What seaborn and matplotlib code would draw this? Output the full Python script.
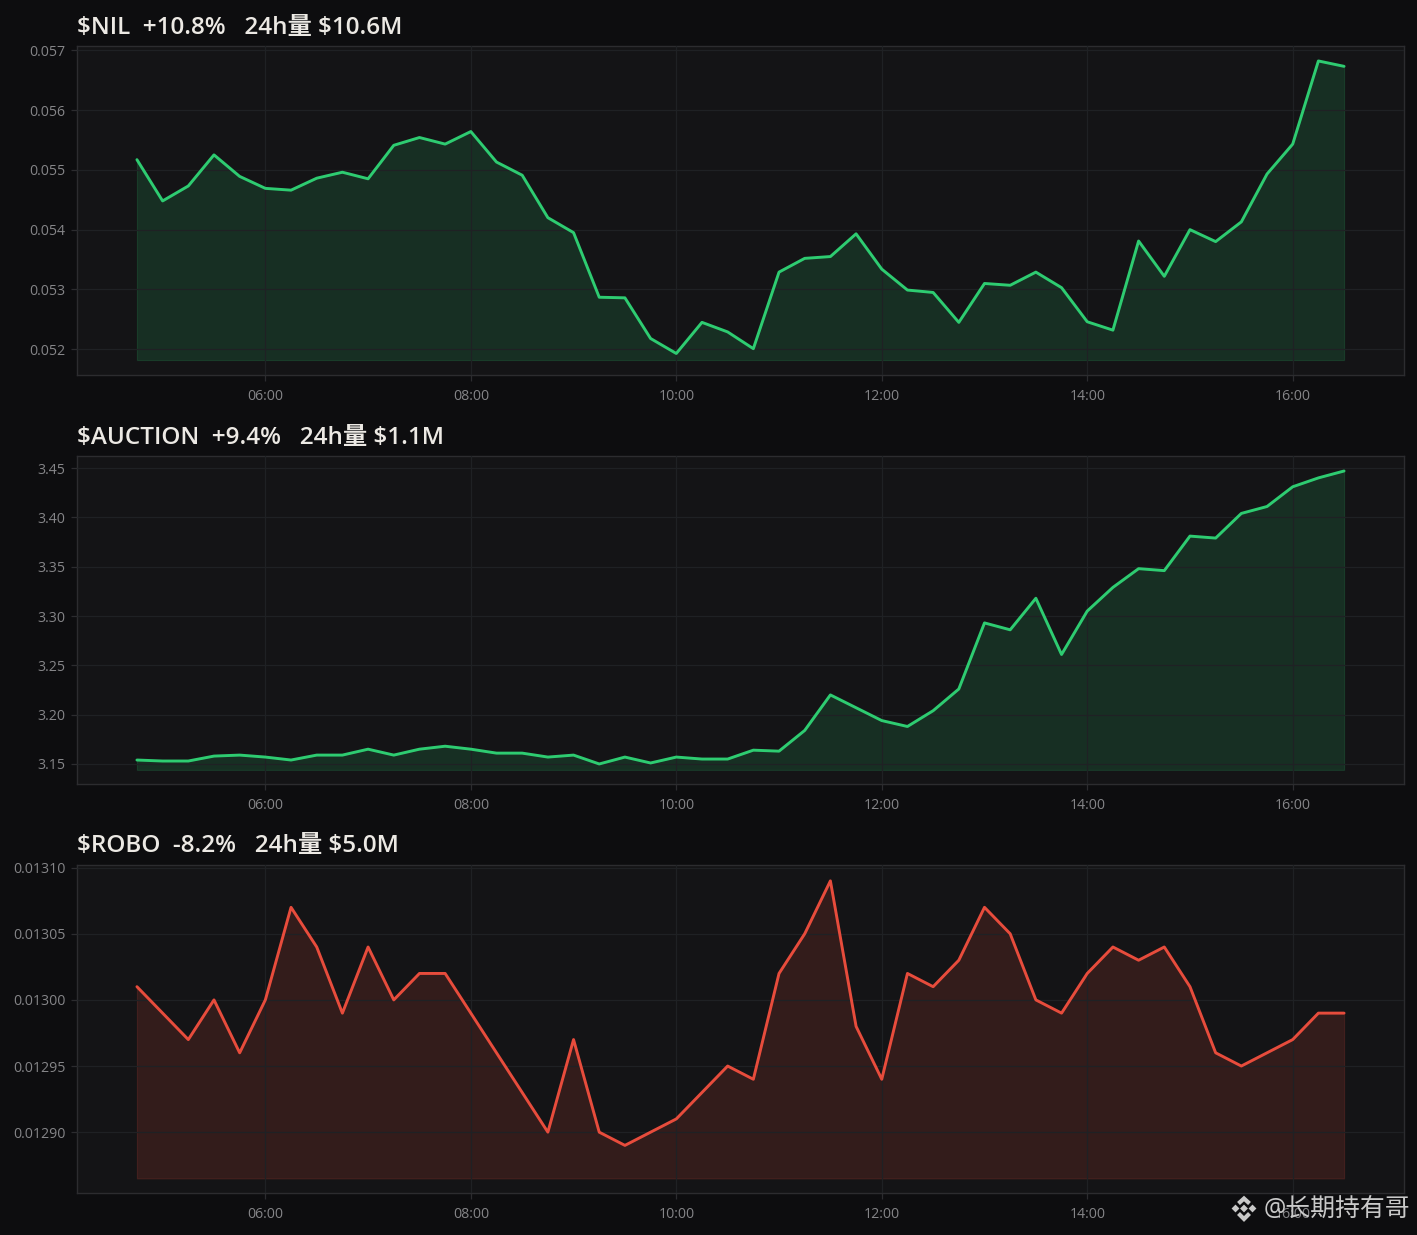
import pandas as pd
import seaborn as sns
import matplotlib
matplotlib.use("Agg")
import matplotlib.pyplot as plt
import matplotlib.dates as mdates
from matplotlib.ticker import FormatStrFormatter

times = pd.date_range("2025-01-01 04:45", "2025-01-01 16:30", freq="15min")

nil = [.05517,.05448,.05473,.05525,.05489,.05469,.05466,.05486,.05496,.05485,.05541,.05554,
       .05543,.05564,.05513,.05491,.05420,.05395,.05287,.05286,.05218,.05193,.05245,.05229,
       .05201,.05329,.05352,.05355,.05393,.05334,.05299,.05295,.05245,.05310,.05307,.05329,
       .05303,.05246,.05232,.05381,.05322,.05400,.05380,.05413,.05493,.05543,.05682,.05673]
auction = [3.154,3.153,3.153,3.158,3.159,3.157,3.154,3.159,3.159,3.165,3.159,3.165,
           3.168,3.165,3.161,3.161,3.157,3.159,3.150,3.157,3.151,3.157,3.155,3.155,
           3.164,3.163,3.184,3.220,3.207,3.194,3.188,3.204,3.226,3.293,3.286,3.318,
           3.261,3.305,3.329,3.348,3.346,3.381,3.379,3.404,3.411,3.431,3.440,3.447]
robo = [.01301,.01299,.01297,.01300,.01296,.01300,.01307,.01304,.01299,.01304,.01300,.01302,
        .01302,.01299,.01296,.01293,.01290,.01297,.01290,.01289,.01290,.01291,.01293,.01295,
        .01294,.01302,.01305,.01309,.01298,.01294,.01302,.01301,.01303,.01307,.01305,.01300,
        .01299,.01302,.01304,.01303,.01304,.01301,.01296,.01295,.01296,.01297,.01299,.01299]

titles = ["$NIL  +10.8%   24h量 $10.6M", "$AUCTION  +9.4%   24h量 $1.1M", "$ROBO  -8.2%   24h量 $5.0M"]
series = [nil, auction, robo]
colors = ["#2ecc71", "#2ecc71", "#e74c3c"]
ylims = [(.05157, .05707), (3.1297, 3.4622), (.012854, .013102)]
bases = [.05182, 3.144, .012865]
yticks = [[.052,.053,.054,.055,.056,.057],
          [3.15,3.20,3.25,3.30,3.35,3.40,3.45],
          [.01290,.01295,.01300,.01305,.01310]]
yfmts = ["%.3f", "%.2f", "%.5f"]
tick_hours = [6, 8, 10, 12, 14, 16]

W, H = 1417, 1235
sns.set_theme(style="dark")
plt.rcParams['font.family'] = ['Open Sans', 'Noto Sans CJK SC', 'DejaVu Sans']
plt.rcParams['text.parse_math'] = False
BG = "#0d0d0f"; AX = "#141416"; EDGE = "#2c2c2f"; GRID = "#1f2124"; TICK = "#858588"

fig = plt.figure(figsize=(W/100, H/100), dpi=100, facecolor=BG)
tops = [46, 456, 865]
hts = [329, 328, 328]
xlim = (pd.Timestamp("2025-01-01 04:10"), pd.Timestamp("2025-01-01 17:05"))

for top, ht, y, c, yl, base, yt, fmt, title in zip(tops, hts, series, colors, ylims, bases, yticks, yfmts, titles):
    ax = fig.add_axes([77/W, 1-(top+ht)/H, (1404-77)/W, ht/H], facecolor=AX)
    df = pd.DataFrame({"t": times, "v": y})
    ax.fill_between(df.t, df.v, base, color=c, alpha=0.15, lw=0.8, zorder=2)
    sns.lineplot(data=df, x="t", y="v", ax=ax, color=c, lw=2.1, zorder=3)
    ax.set_xlim(*xlim); ax.set_ylim(*yl)
    ax.set_yticks(yt)
    ax.yaxis.set_major_formatter(FormatStrFormatter(fmt))
    ax.xaxis.set_major_locator(mdates.HourLocator(byhour=tick_hours))
    ax.xaxis.set_major_formatter(mdates.DateFormatter("%H:%M"))
    ax.set_xlabel(""); ax.set_ylabel("")
    ax.set_axisbelow(False)
    ax.grid(True, color=GRID, lw=0.9)
    ax.tick_params(axis="both", colors=TICK, labelsize=10.2, length=4, width=0.9, color=EDGE,
                   bottom=True, left=True)
    ax.tick_params(axis="x", pad=6)
    ax.tick_params(axis="y", pad=4.5)
    for label in ax.get_yticklabels():
        label.set_y(label.get_position()[1])
    for s in ax.spines.values():
        s.set_color(EDGE); s.set_linewidth(1.0)
    ax.set_title(title, loc="left", color="#ece9e4", fontsize=17.5, fontweight=600, pad=9)

# watermark
WM = "#c9c9c9"
ov = fig.add_axes([0, 0, 1, 1], facecolor="none")
ov.set_xlim(0, W); ov.set_ylim(H, 0); ov.axis("off")
ov.scatter([1235.5, 1252.5, 1244], [1208.5, 1208.5, 1208.5], marker="D", s=[16, 16, 16], color=WM, lw=0)
ov.plot([1238.5, 1244, 1249.5], [1203.5, 1198.5, 1203.5], color=WM, lw=3, solid_joinstyle="miter", solid_capstyle="butt")
ov.plot([1238.5, 1244, 1249.5], [1213.5, 1219, 1213.5], color=WM, lw=3, solid_joinstyle="miter", solid_capstyle="butt")
ov.text(1264, 1209, "@长期持有哥", color=WM, fontsize=17.9, va="center", ha="left")

fig.savefig("out.png", dpi=100, facecolor=BG)
